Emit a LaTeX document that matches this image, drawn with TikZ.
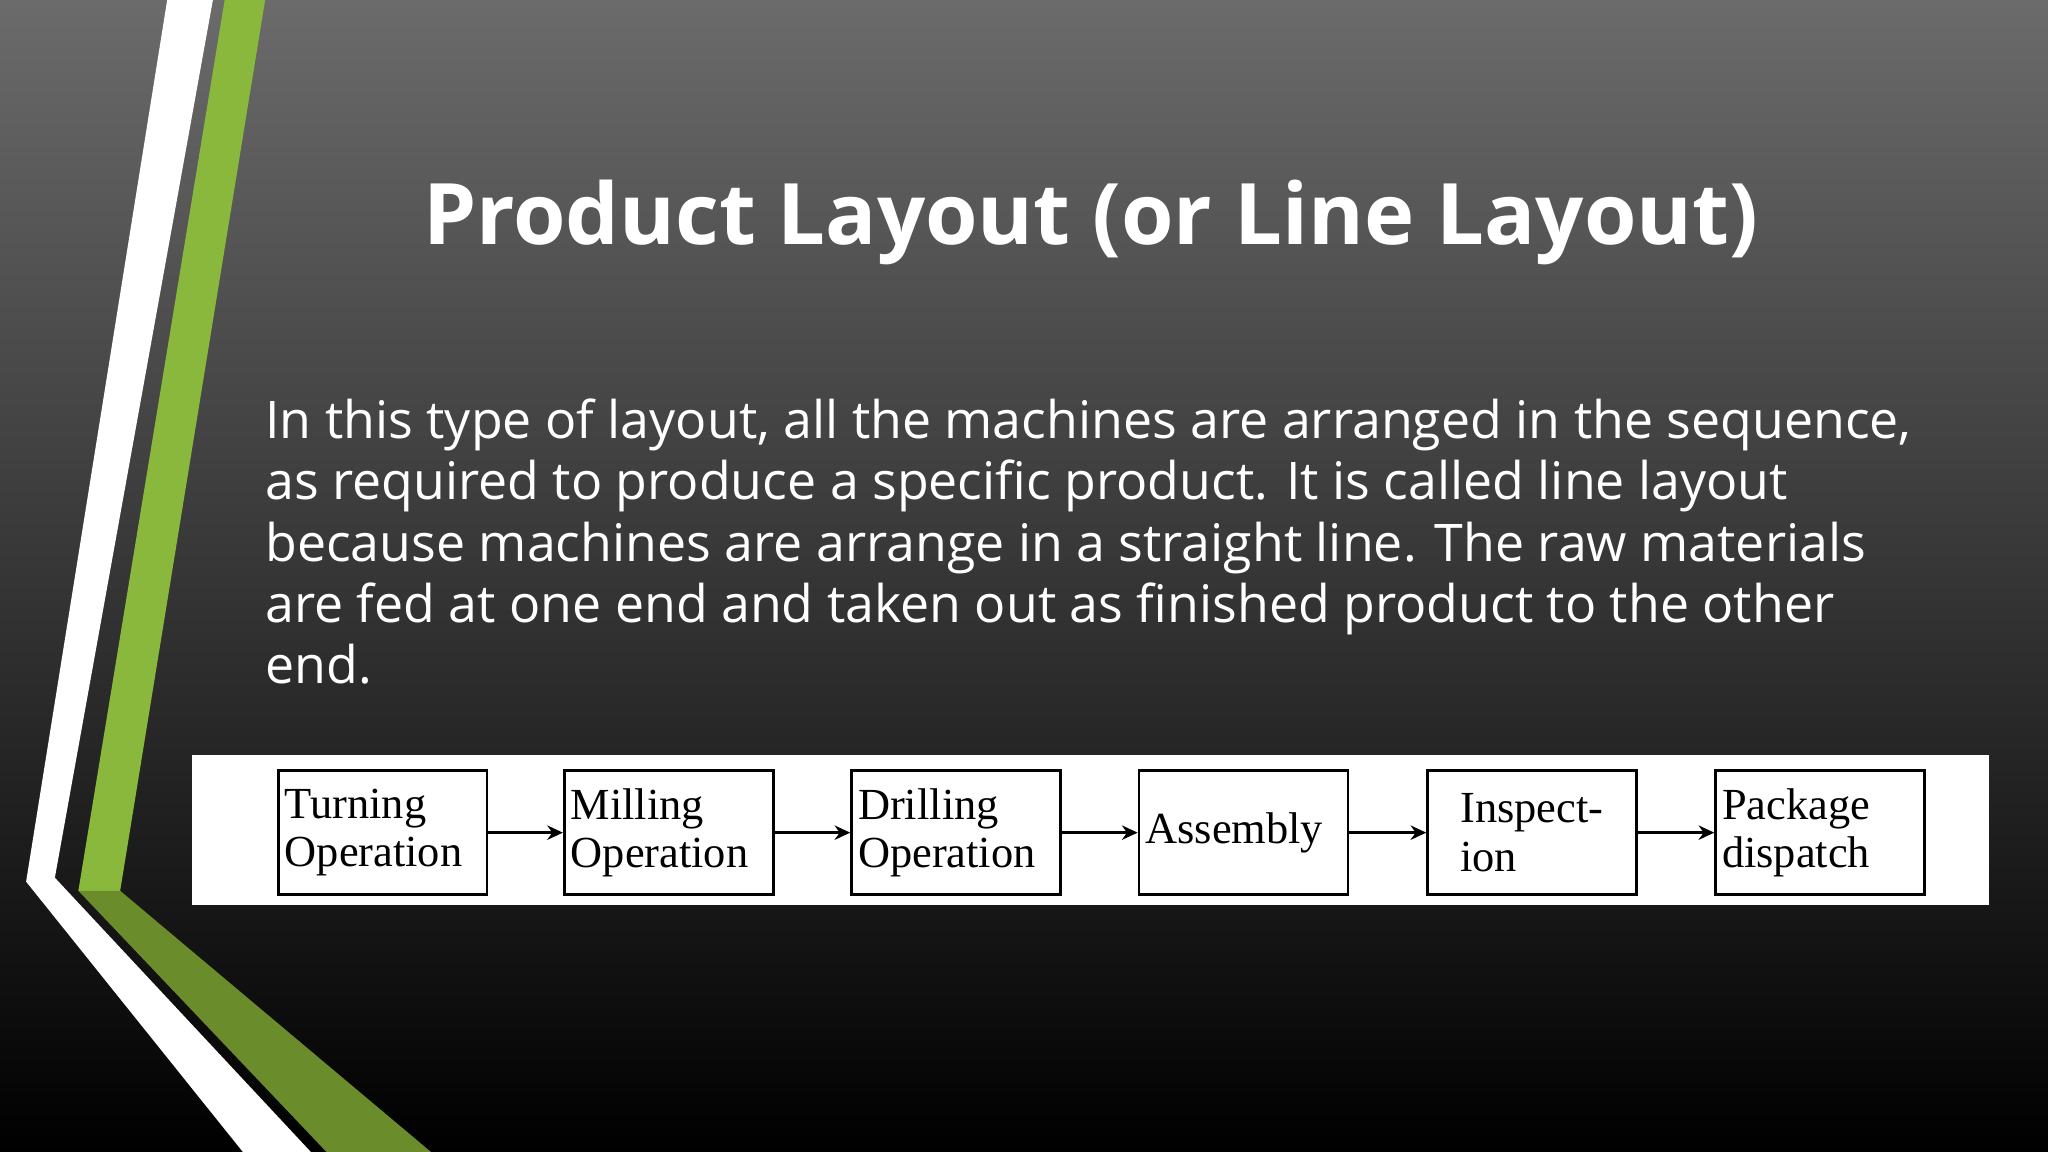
\documentclass[tikz,border=0pt]{standalone}
\usepackage{fontspec}
\setmainfont{Open Sans}
\newfontfamily\boxfont{Liberation Serif}
\usetikzlibrary{arrows.meta}
\definecolor{lgreen}{HTML}{8AB83C}
\definecolor{dgreen}{HTML}{6A8C2A}
\tikzset{
  opbox/.style={draw=black,line width=2pt,minimum width=160pt,minimum height=95pt,inner sep=0pt,text width=150pt,align=left,font=\boxfont\fontsize{34}{37}\selectfont},
  flow/.style={-{Stealth[length=12pt,width=11pt]},line width=2.5pt}
}
\begin{document}
\begin{tikzpicture}[x=1pt,y=-1pt]
\useasboundingbox (0,0) rectangle (1568,882);
\shade[top color=black!58,bottom color=black] (0,0) rectangle (1568,882);
% decorations
\fill[white] (128,0) -- (163,0) -- (42,672) -- (238,882) -- (186,882) -- (20,675) -- cycle;
\fill[lgreen] (172,0) -- (203,0) -- (92,682) -- (60,682) -- cycle;
\fill[dgreen] (60,682) -- (92,682) -- (330,882) -- (250,882) -- cycle;
% title
\node[text=white,font=\bfseries\fontsize{65}{70}\selectfont] (title) at (835,170) {Product Layout (or Line Layout)};
\node[text=white,anchor=north west,align=left,inner sep=0pt,font=\fontsize{39.7}{47}\selectfont] (body) at (203,305)
{In this type of layout, all the machines are arranged in the sequence,\\
as required to produce a specific product. It is called line layout\\
because machines are arrange in a straight line. The raw materials\\
are fed at one end and taken out as finished product to the other\\
end.};
% diagram
\fill[white] (147,578) rectangle (1523,693);
\node[opbox] (b1) at (293,637.5) {Turning\\Operation};
\node[opbox] (b2) at (512,637.5) {Milling\\Operation};
\node[opbox] (b3) at (732,637.5) {Drilling\\Operation};
\node[opbox] (b4) at (952,637.5) {Assembly};
\node[opbox] (b5) at (1173,637.5) {\hspace*{20pt}Inspect-\\\hspace*{20pt}ion};
\node[opbox] (b6) at (1393.5,637.5) {Package\\dispatch};
\foreach \a/\b in {b1/b2,b2/b3,b3/b4,b4/b5,b5/b6}
  \draw[flow] (\a) -- (\b);
\end{tikzpicture}
\end{document}
